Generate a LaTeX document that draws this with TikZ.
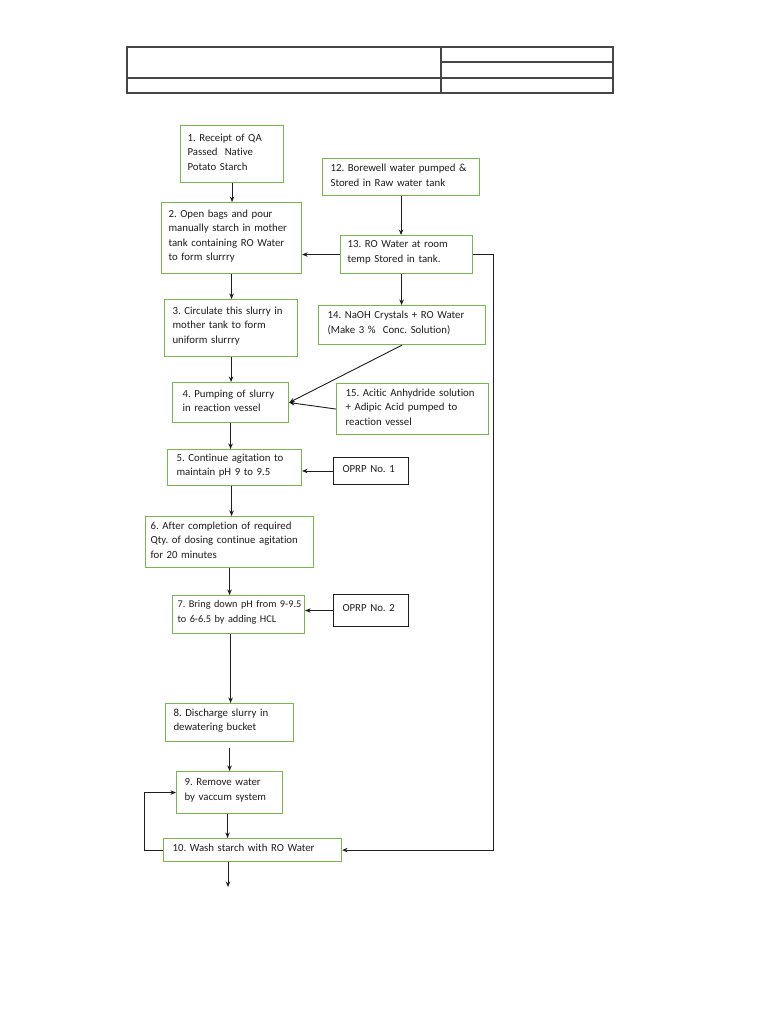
\documentclass[tikz,border=0pt]{standalone}
\usepackage{fontspec}
\setmainfont{Carlito}[Ligatures=NoCommon]
\usetikzlibrary{arrows.meta}
\definecolor{boxgreen}{RGB}{118,184,76}
\definecolor{ink}{RGB}{30,30,30}
\definecolor{rule}{RGB}{70,70,70}
\newcommand{\Lx}[1]{\mbox{#1}}
\newcommand{\boxpad}{\par\vspace{4pt}}
\begin{document}
\begin{tikzpicture}[x=1pt,y=-1pt,
  font=\fontsize{10.8}{14.5}\selectfont\frenchspacing,
  box/.style={draw=boxgreen, line width=1.1pt, inner xsep=#1, inner ysep=1pt,
    align=left, anchor=north west, text=ink, execute at end node=\boxpad},
  box/.default=8pt,
  obox/.style={draw=ink, line width=1pt, inner xsep=#1, inner ysep=1pt,
    align=left, anchor=north west, text=ink, execute at end node=\boxpad},
  obox/.default=9pt,
  arr/.style={draw=ink, line width=0.9pt, -{Stealth[length=5.5pt,width=4.5pt]}},
  tbl/.style={draw=rule, line width=1.3pt}]
\useasboundingbox (0,0) rectangle (768,1024);
\fill[white] (0,0) rectangle (768,1024);
% header table
\draw[tbl] (127,47) rectangle (613,93);
\draw[tbl] (127,78) -- (613,78);
\draw[tbl] (441,47) -- (441,93);
\draw[tbl] (441,62) -- (613,62);
% boxes
\node[box=7pt, minimum width=103, minimum height=57, text width=89pt] (n1) at (180,125)
  {\Lx{1. Receipt of QA}\\\Lx{Passed~ Native}\\\Lx{Potato Starch}};
\node[box, minimum width=157, minimum height=37, text width=141pt] (n12) at (322,158)
  {\Lx{12. Borewell water pumped \&}\\\Lx{Stored in Raw water tank}};
\node[box=7pt, minimum width=140, minimum height=71, text width=126pt] (n2) at (161,202)
  {\Lx{2. Open bags and pour}\\\Lx{manually starch in mother}\\\Lx{tank containing RO Water}\\\Lx{to form slurrry}};
\node[box=7pt, minimum width=132, minimum height=38, text width=118pt] (n13) at (340,235)
  {\Lx{13. RO Water at room}\\\Lx{temp Stored in tank.}};
\node[box, minimum width=133, minimum height=57, text width=117pt] (n3) at (164,299)
  {\Lx{3. Circulate this slurry in}\\\Lx{mother tank to form}\\\Lx{uniform slurrry}};
\node[box=9pt, minimum width=167, minimum height=39, text width=149pt] (n14) at (318,305)
  {\Lx{14. NaOH Crystals + RO Water}\\\Lx{(Make 3 \%~ Conc. Solution)}};
\node[box=10pt, minimum width=116, minimum height=40, text width=96pt] (n4) at (172,382)
  {\Lx{4. Pumping of slurry}\\\Lx{in reaction vessel}};
\node[box=9pt, minimum width=152, minimum height=51, text width=134pt] (n15) at (336,383)
  {\Lx{15. Acitic Anhydride solution}\\\Lx{+ Adipic Acid pumped to}\\\Lx{reaction vessel}};
\node[box=9pt, minimum width=134, minimum height=36, text width=116pt] (n5) at (167,449)
  {\Lx{5. Continue agitation to}\\\Lx{maintain pH 9 to 9.5}};
\node[obox, minimum width=75, minimum height=27, text width=57pt] (o1) at (333,457)
  {\Lx{OPRP No. 1}};
\node[box=5pt, minimum width=168, minimum height=51, text width=158pt] (n6) at (145,516)
  {\Lx{6. After completion of required}\\\Lx{Qty. of dosing continue agitation}\\\Lx{for 20 minutes}};
\node[box=5pt, minimum width=132, minimum height=38, text width=122pt,
  font=\fontsize{10.3}{14.5}\selectfont\frenchspacing] (n7) at (172,595)
  {\Lx{7. Bring down pH from 9-9.5}\\\Lx{to 6-6.5 by adding HCL}};
\node[obox, minimum width=75, minimum height=32, text width=57pt] (o2) at (333,594)
  {\Lx{OPRP No. 2}};
\node[box, minimum width=128, minimum height=38, text width=112pt] (n8) at (165,703)
  {\Lx{8. Discharge slurry in}\\\Lx{dewatering bucket}};
\node[box, minimum width=106, minimum height=42, text width=90pt] (n9) at (176,771)
  {\Lx{9. Remove water}\\\Lx{by vaccum system}};
\node[box=9pt, minimum width=178, minimum height=23, text width=160pt] (n10) at (163,838)
  {\Lx{10. Wash starch with RO Water}};
\coordinate (end) at (228,887);
% connectors
\draw[arr] (n1.south) -- (n1.south |- n2.north);
\draw[arr] (n12.south) -- (n12.south |- n13.north);
\draw[arr] (n13.west) -- (n2.east |- n13.west);
\draw[arr] (n2.south) -- (n2.south |- n3.north);
\draw[arr] ([xshift=-5]n13.south) -- ([xshift=-5]n13.south |- n14.north);
\draw[arr] (n3.south) -- (n3.south |- n4.north);
\draw[arr] (n14.south) -- (n4.east);
\draw[arr] (n15.west) -- (n4.east);
\draw[arr] (n4.south) -- (n4.south |- n5.north);
\draw[arr] (o1.west) -- (n5.east |- o1.west);
\draw[arr] ([xshift=-3]n5.south) -- ([xshift=-3]n5.south |- n6.north);
\draw[arr] (n6.south) -- (n6.south |- n7.north);
\draw[arr] (o2.west) -- (n7.east |- o2.west);
\draw[arr] ([xshift=-8]n7.south) -- ([xshift=-8]n7.south |- n8.north);
\draw[arr, shorten <=6pt] (n8.south) -- (n8.south |- n9.north);
\draw[arr] ([xshift=-2]n9.south) -- ([xshift=-2]n9.south |- n10.north);
\draw[arr] (n10.south -| end) -- (end);
\draw[arr] (n10.west) -- ++(-19,0) |- (n9.west);
\draw[arr] (n13.east) -- ++(20,0) |- (n10.east);
\end{tikzpicture}
\end{document}
